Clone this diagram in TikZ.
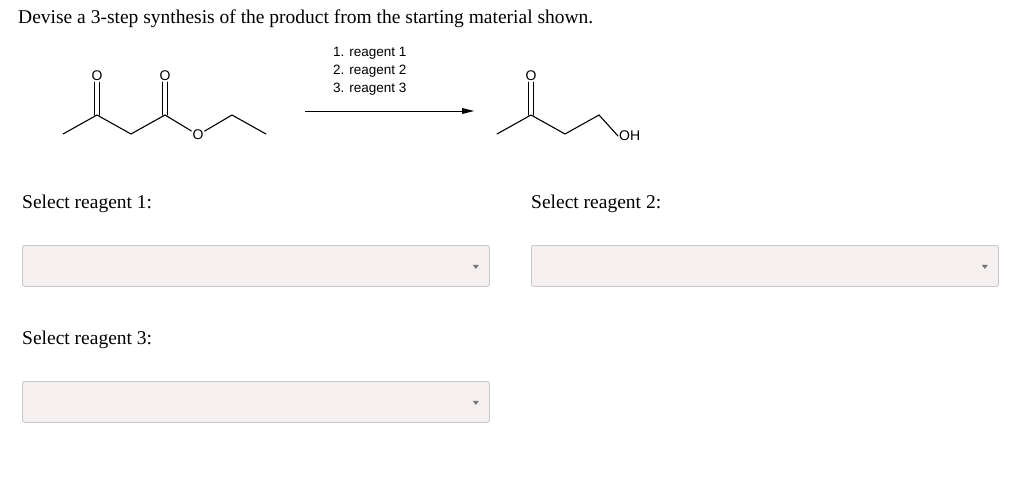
\documentclass[tikz,border=0pt]{standalone}
\usepackage{fontspec}
\setmainfont{Liberation Serif}
\newfontfamily\arial{Liberation Sans}
\definecolor{boxfill}{HTML}{F5EFEF}
\begin{document}
\begin{tikzpicture}[x=1pt,y=-1pt,
  bond/.style={line width=1.1pt,line cap=round},
  atom/.style={font=\arial\fontsize{14}{14}\selectfont,inner sep=1pt,fill=white},
  lbl/.style={font=\fontsize{19.5}{22}\selectfont,anchor=west,inner sep=0},
  rg/.style={font=\arial\fontsize{13.5}{14}\selectfont,anchor=west,inner sep=0},
  selbox/.style={draw=black!22,fill=boxfill,rounded corners=2pt,line width=0.8pt,minimum height=41pt,anchor=north west,inner sep=0},
  tri/.style={fill=black!55,draw=none}]
\useasboundingbox (0,0) rectangle (1024,503);
\node[lbl] (title) at (18,19) {Devise a 3-step synthesis of the product from the starting material shown.};
% starting material
\coordinate (a1) at (63,134); \coordinate (a2) at (97,115); \coordinate (a3) at (131,134);
\coordinate (a4) at (165,115); \coordinate (a6) at (232,115); \coordinate (a7) at (266,134);
\node[atom] (o1) at (97,76) {O}; \node[atom] (o2) at (165,76) {O}; \node[atom] (o3) at (198,135) {O};
\draw[bond] (a1)--(a2)--(a3)--(a4)--(o3)--(a6)--(a7);
\draw[bond] ([xshift=-2.2pt]a2)--([xshift=-2.2pt]o1.south); \draw[bond] ([xshift=2.2pt]a2)--([xshift=2.2pt]o1.south);
\draw[bond] ([xshift=-2.2pt]a4)--([xshift=-2.2pt]o2.south); \draw[bond] ([xshift=2.2pt]a4)--([xshift=2.2pt]o2.south);
% arrow
\node[rg] (r1) at (333,53) {1. reagent 1};
\node[rg] (r2) at (333,71) {2. reagent 2};
\node[rg] (r3) at (333,89) {3. reagent 3};
\coordinate (s) at (305,111); \coordinate (e) at (474,111);
\draw[line width=0.9pt] (s)--([xshift=-8pt]e);
\fill (e)--++(-12,-3)--++(0,6)--cycle;
% product
\coordinate (b1) at (497,134); \coordinate (b2) at (531,115); \coordinate (b3) at (565,134); \coordinate (b4) at (599,115);
\node[atom] (o4) at (531,76) {O}; \node[atom,anchor=west] (oh) at (618,136) {OH};
\draw[bond] (b1)--(b2)--(b3)--(b4)--(oh.west);
\draw[bond] ([xshift=-2.2pt]b2)--([xshift=-2.2pt]o4.south); \draw[bond] ([xshift=2.2pt]b2)--([xshift=2.2pt]o4.south);
% selects
\node[lbl] (s1) at (22,204) {Select reagent 1:};
\node[lbl] (s2) at (531,204) {Select reagent 2:};
\node[lbl] (s3) at (22,340) {Select reagent 3:};
\node[selbox,minimum width=467pt] (box1) at (22,245) {};
\node[selbox,minimum width=467pt] (box2) at (531,245) {};
\node[selbox,minimum width=467pt] (box3) at (22,381) {};
\foreach \b in {box1,box2,box3}{
  \fill[tri] ([xshift=-17pt,yshift=1pt]\b.east)--++(6,0)--++(-3,4)--cycle;}
\end{tikzpicture}
\end{document}
